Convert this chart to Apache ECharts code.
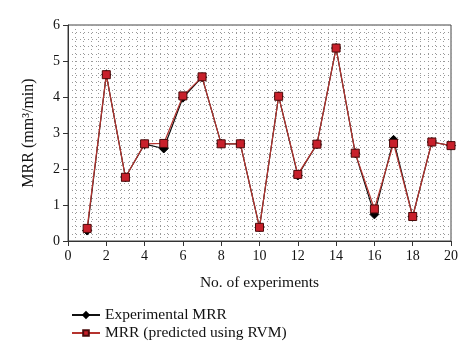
<!DOCTYPE html>
<html><head><meta charset="utf-8">
<script src="https://cdn.jsdelivr.net/npm/echarts@6/dist/echarts.min.js"></script>
<style>html,body{margin:0;padding:0;background:#fff}#c{width:474px;height:358px}</style>
</head><body><div id="c"></div>
<script>
var experiments = [1,2,3,4,5,6,7,8,9,10,11,12,13,14,15,16,17,18,19,20];
var experimentalMRR = [0.29,4.62,1.77,2.69,2.57,3.98,4.55,2.70,2.70,0.38,4.02,1.82,2.69,5.36,2.44,0.74,2.81,0.68,2.75,2.65];
var predictedMRR = [0.35,4.62,1.77,2.70,2.71,4.03,4.56,2.70,2.70,0.38,4.02,1.85,2.69,5.36,2.44,0.89,2.71,0.68,2.75,2.65];
var xTicks = [0,2,4,6,8,10,12,14,16,18,20];
var yTicks = [0,1,2,3,4,5,6];

function pairs(vals){ return experiments.map(function(x,i){ return [x, vals[i]]; }); }
var font = 'Liberation Serif';
var chart = echarts.init(document.getElementById('c'), null, {renderer:'canvas'});
chart.setOption({
  animation:false,
  backgroundColor:'#fff',
  textStyle:{fontFamily:font, color:'#000'},
  grid:{left:68, right:23, top:25, bottom:117, show:true, borderColor:'#444', borderWidth:1, backgroundColor:'transparent'},
  xAxis:{
    type:'value', min:xTicks[0], max:xTicks[xTicks.length-1], interval:2,
    name:'No. of experiments', nameLocation:'middle', nameGap:34,
    nameTextStyle:{fontFamily:font, fontSize:15.5, color:'#111'},
    axisLine:{show:true, onZero:false, lineStyle:{color:'#333', width:1}},
    axisTick:{show:true, inside:false, length:5, lineStyle:{color:'#333'}},
    axisLabel:{fontFamily:font, fontSize:14, color:'#111', margin:8},
    splitLine:{show:true, lineStyle:{color:'#999', type:[1,3], width:1}},
    minorTick:{show:false, splitNumber:5},
    minorSplitLine:{show:true, lineStyle:{color:'#999', type:[1,3], width:1}}
  },
  yAxis:{
    type:'value', min:yTicks[0], max:yTicks[yTicks.length-1], interval:1,
    name:'MRR (mm\u00B3/min)', nameLocation:'middle', nameGap:31,
    nameTextStyle:{fontFamily:font, fontSize:16, color:'#111'},
    axisLine:{show:true, lineStyle:{color:'#333', width:1}},
    axisTick:{show:true, inside:false, length:5, lineStyle:{color:'#333'}},
    axisLabel:{fontFamily:font, fontSize:14, color:'#111', margin:8},
    splitLine:{show:true, lineStyle:{color:'#999', type:[1,3], width:1}},
    minorTick:{show:false, splitNumber:5},
    minorSplitLine:{show:true, lineStyle:{color:'#999', type:[1,3], width:1}}
  },
  legend:{
    orient:'vertical', left:66, top:302, itemGap:2, itemWidth:28, itemHeight:7,
    textStyle:{fontFamily:font, fontSize:15.5, color:'#111'},
    data:['Experimental MRR','MRR (predicted using RVM)']
  },
  series:[
    {name:'Experimental MRR', type:'line', data:pairs(experimentalMRR),
     symbol:'diamond', symbolSize:9, showAllSymbol:true,
     lineStyle:{color:'#111', width:1.2},
     itemStyle:{color:'#000', borderColor:'#000', borderWidth:1}, z:2},
    {name:'MRR (predicted using RVM)', type:'line', data:pairs(predictedMRR),
     symbol:'rect', symbolSize:8, showAllSymbol:true,
     lineStyle:{color:'#b5332e', width:1.2},
     itemStyle:{color:'#c8202b', borderColor:'#4a0a0a', borderWidth:1}, z:3}
  ]
});
</script></body></html>
